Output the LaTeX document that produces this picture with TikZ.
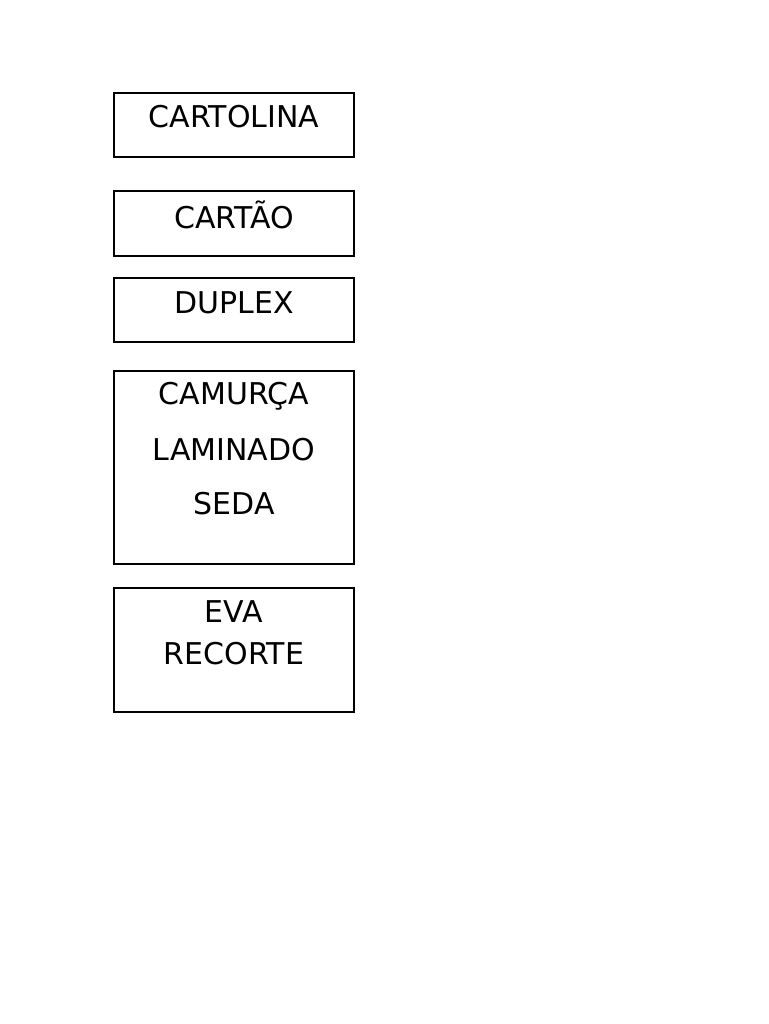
\documentclass[tikz,border=0pt]{standalone}
\usepackage{fontspec}
\setmainfont{DejaVu Sans}
\begin{document}
\begin{tikzpicture}[x=1pt,y=1pt,yscale=-1,
  box/.style={draw,line width=2.5pt,minimum width=240pt,inner sep=0pt},
  lbl/.style={inner sep=0pt,font=\fontsize{30}{36}\selectfont}]
\useasboundingbox (0,0) rectangle (768,1024);
% boxes
\node [box,minimum height=64pt] (cartolina) at (234,125) {};
\node [box,minimum height=65pt] (cartao) at (234,223.5) {};
\node [box,minimum height=64pt] (duplex) at (234,310) {};
\node [box,minimum height=193pt] (papeis) at (234,467.5) {};
\node [box,minimum height=124pt] (eva) at (234,650) {};
% texts
\node [lbl] (t1) at (234,117) {CARTOLINA};
\node [lbl] (t2) at (234,215) {CARTÃO};
\node [lbl] (t3) at (234,303) {DUPLEX};
\node [lbl] (t4) at (234,396) {CAMURÇA};
\node [lbl] (t5) at (234,450) {LAMINADO};
\node [lbl] (t6) at (234,504) {SEDA};
\node [lbl] (t7) at (234,612) {EVA};
\node [lbl] (t8) at (234,654) {RECORTE};
\end{tikzpicture}
\end{document}
